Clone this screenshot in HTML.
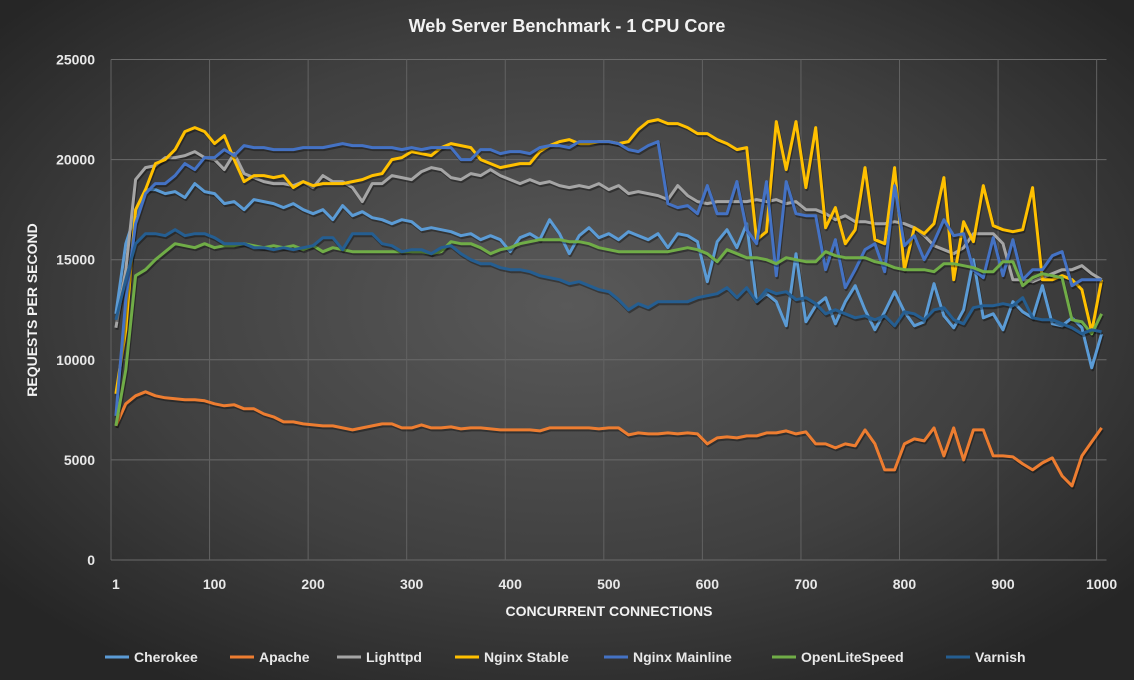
<!DOCTYPE html>
<html><head><meta charset="utf-8"><style>
html,body{margin:0;padding:0;}
body{width:1134px;height:680px;overflow:hidden;background:#2a2a2a;font-family:"Liberation Sans",sans-serif;}
svg{display:block;}
svg text{font-family:"Liberation Sans",sans-serif;}
</style></head><body>
<svg id="chart" width="1134" height="680" xmlns="http://www.w3.org/2000/svg">
<defs>
<radialGradient id="bg" cx="50%" cy="45%" r="65%">
<stop offset="0" stop-color="#595959"/><stop offset="0.6" stop-color="#404040"/><stop offset="1" stop-color="#262626"/>
</radialGradient>
</defs>
<rect x="0" y="0" width="1134" height="680" fill="url(#bg)"/>
<text x="567" y="32" text-anchor="middle" fill="#f2f2f2" font-size="18" font-weight="bold">Web Server Benchmark - 1 CPU Core</text>
<g id="grid"></g>
<g id="yticks"></g>
<g id="xticks"></g>
<g id="series"></g>
<text transform="translate(37,310) rotate(-90)" text-anchor="middle" fill="#f2f2f2" font-size="14" font-weight="bold">REQUESTS PER SECOND</text>
<text x="609" y="616" text-anchor="middle" fill="#f2f2f2" font-size="14" font-weight="bold">CONCURRENT CONNECTIONS</text>
<g id="legend"></g>
</svg>
<script>
const categories = [];
for (let i = 0; i <= 100; i++) categories.push(i === 0 ? 1 : i * 10);
const yTicks = [0, 5000, 10000, 15000, 20000, 25000];
const xTickLabels = [1, 100, 200, 300, 400, 500, 600, 700, 800, 900, 1000];
const seriesNames = ["Cherokee","Apache","Lighttpd","Nginx Stable","Nginx Mainline","OpenLiteSpeed","Varnish"];
const seriesColors = ["#5b9bd5","#ed7d31","#a5a5a5","#ffc000","#4472c4","#70ad47","#255e91"];
const cherokee = [12.3,15.8,17.3,18.5,18.5,18.3,18.4,18.1,18.8,18.4,18.3,17.8,17.9,17.5,18.0,17.9,17.8,17.6,17.8,17.5,17.3,17.5,17.0,17.7,17.2,17.4,17.1,17.0,16.8,17.0,16.9,16.5,16.6,16.5,16.4,16.2,16.3,16.0,16.2,16.0,15.4,16.1,16.3,16.0,17.0,16.3,15.3,16.2,16.6,16.1,16.3,16.0,16.4,16.2,16.0,16.3,15.6,16.3,16.2,15.9,13.9,15.9,16.5,15.6,16.8,12.9,13.3,12.9,11.7,15.3,11.9,12.7,13.1,11.8,12.9,13.7,12.5,11.5,12.4,13.4,12.4,11.7,11.9,13.8,12.2,11.6,12.5,15.0,12.1,12.3,11.5,12.9,12.4,12.1,13.7,11.8,11.7,12.1,11.6,9.6,11.3];
const apache = [6.7,7.8,8.2,8.4,8.2,8.1,8.05,8.0,8.0,7.95,7.8,7.7,7.75,7.55,7.55,7.3,7.15,6.9,6.9,6.8,6.75,6.7,6.7,6.6,6.5,6.6,6.7,6.8,6.8,6.6,6.6,6.75,6.6,6.6,6.65,6.55,6.6,6.6,6.55,6.5,6.5,6.5,6.5,6.45,6.6,6.6,6.6,6.6,6.6,6.55,6.6,6.6,6.25,6.35,6.3,6.3,6.35,6.3,6.35,6.3,5.8,6.1,6.15,6.1,6.2,6.2,6.35,6.35,6.45,6.3,6.4,5.8,5.8,5.6,5.8,5.7,6.5,5.8,4.5,4.5,5.8,6.05,5.95,6.6,5.2,6.6,5.0,6.5,6.5,5.2,5.2,5.15,4.8,4.5,4.85,5.1,4.2,3.7,5.2,5.9,6.6];
const lighttpd = [11.6,14.5,19.0,19.6,19.7,20.1,20.1,20.2,20.4,20.1,20.0,19.5,20.3,19.3,19.1,18.9,18.8,18.8,18.7,18.9,18.6,19.2,18.9,18.9,18.6,17.9,18.8,18.8,19.2,19.1,19.0,19.4,19.6,19.5,19.1,19.0,19.3,19.2,19.5,19.2,19.0,18.8,19.0,18.8,18.9,18.7,18.6,18.7,18.6,18.8,18.5,18.7,18.3,18.4,18.3,18.2,18.0,18.7,18.2,17.9,17.8,17.9,17.9,17.9,17.9,18.0,17.9,18.0,17.8,17.9,17.5,17.5,17.3,17.0,17.2,16.9,16.9,16.8,16.8,16.9,16.8,16.6,16.2,15.7,15.5,15.3,15.6,16.3,16.3,16.3,15.8,14.0,14.0,13.9,14.1,14.3,14.5,14.5,14.7,14.3,14.0];
const nginxStable = [8.3,11.5,17.5,18.5,19.8,20.0,20.5,21.4,21.6,21.4,20.8,21.2,20.0,18.9,19.2,19.2,19.1,19.2,18.6,18.9,18.7,18.8,18.8,18.8,18.9,19.0,19.2,19.3,20.0,20.1,20.4,20.3,20.2,20.6,20.8,20.7,20.6,20.0,19.8,19.6,19.7,19.8,19.8,20.4,20.7,20.9,21.0,20.8,20.8,20.9,20.9,20.8,20.9,21.5,21.9,22.0,21.8,21.8,21.6,21.3,21.3,21.0,20.8,20.5,20.6,16.0,16.4,21.9,19.5,21.9,18.6,21.6,16.6,17.6,15.8,16.5,19.6,16.0,15.8,19.6,14.5,16.6,16.3,16.8,19.1,14.0,16.9,15.9,18.7,16.7,16.5,16.4,16.5,18.6,14.0,14.0,14.2,14.0,13.5,11.4,14.0];
const nginxMainline = [7.2,13.0,16.8,18.3,18.8,18.8,19.2,19.8,19.5,20.1,20.1,20.5,20.2,20.7,20.6,20.6,20.5,20.5,20.5,20.6,20.6,20.6,20.7,20.8,20.7,20.7,20.6,20.6,20.6,20.5,20.6,20.5,20.6,20.6,20.6,20.0,20.0,20.5,20.5,20.3,20.4,20.4,20.3,20.6,20.7,20.7,20.6,20.9,20.9,20.9,20.9,20.8,20.5,20.4,20.7,20.9,17.8,17.6,17.7,17.3,18.7,17.3,17.3,18.9,16.5,15.8,18.9,14.2,18.9,17.3,17.2,17.2,14.5,16.0,13.6,14.5,15.5,15.8,14.4,18.7,15.7,16.2,15.0,15.9,17.0,16.2,16.3,14.5,14.1,16.1,14.2,16.0,14.0,14.5,14.5,15.2,15.4,13.7,14.0,14.0,14.0];
const openLiteSpeed = [6.7,9.5,14.2,14.5,15.0,15.4,15.8,15.7,15.6,15.8,15.6,15.7,15.7,15.8,15.7,15.6,15.7,15.6,15.7,15.5,15.7,15.4,15.6,15.5,15.4,15.4,15.4,15.4,15.4,15.4,15.4,15.4,15.3,15.4,15.9,15.8,15.8,15.6,15.3,15.5,15.6,15.8,15.9,16.0,16.0,16.0,15.9,15.9,15.8,15.6,15.5,15.4,15.4,15.4,15.4,15.4,15.4,15.5,15.6,15.5,15.3,14.9,15.5,15.3,15.1,15.1,15.0,14.8,15.1,15.0,14.9,14.9,15.4,15.2,15.1,15.1,15.1,14.9,14.8,14.6,14.5,14.5,14.5,14.4,14.8,14.8,14.7,14.6,14.4,14.4,14.9,14.9,13.7,14.1,14.3,14.2,14.1,12.0,11.9,11.3,12.3];
const varnish = [12.0,14.0,15.8,16.3,16.3,16.2,16.5,16.2,16.3,16.3,16.1,15.8,15.8,15.8,15.6,15.6,15.5,15.6,15.5,15.6,15.7,16.1,16.1,15.5,16.3,16.3,16.3,15.8,15.7,15.4,15.5,15.5,15.3,15.6,15.7,15.3,15.0,14.8,14.8,14.6,14.5,14.5,14.4,14.2,14.1,14.0,13.8,13.9,13.7,13.5,13.4,13.0,12.5,12.8,12.6,12.9,12.9,12.9,12.9,13.1,13.2,13.3,13.6,13.1,13.6,12.9,13.5,13.3,13.4,13.0,13.1,12.8,12.3,12.5,12.3,12.1,12.2,12.0,12.2,11.7,12.4,12.3,12.0,12.5,12.6,12.0,11.8,12.6,12.7,12.7,12.8,12.7,13.1,12.1,12.0,12.0,11.8,11.6,11.3,11.5,11.4];

const NS = "http://www.w3.org/2000/svg";
const L = 111, R = 1106.5, T = 59.5, B = 560, YMAX = 25000;
const step = (R - L) / categories.length;
function xIdx(i){ return L + (i + 0.5) * step; }
function xVal(v){ return xIdx(categories.indexOf(v)); }
function yVal(v){ return B - (v / YMAX) * (B - T); }
function mk(tag, attrs, parent){ const e = document.createElementNS(NS, tag); for (const k in attrs) e.setAttribute(k, attrs[k]); parent.appendChild(e); return e; }

const grid = document.getElementById('grid');
yTicks.forEach(t => {
  const ln = mk('line', {x1:L, x2:R, y1:yVal(t), y2:yVal(t), stroke:'#6a6a6a', 'stroke-width':1}, grid);
  
  
});
for (let k = 0; k <= 10; k++) {
  const gx = L + k * 10 * step;
  const ln = mk('line', {x1:gx, x2:gx, y1:T, y2:B, stroke:'#626262', 'stroke-width':1}, grid);
  
  
}
const yt = document.getElementById('yticks');
yTicks.forEach(t => {
  const tx = mk('text', {x:95, y:yVal(t) + 5, 'text-anchor':'end', fill:'#e8e8e8', 'font-size':14, 'font-weight':'bold'}, yt);
  tx.textContent = t;
  
  
});
const xt = document.getElementById('xticks');
xTickLabels.forEach(t => {
  const tx = mk('text', {x:xVal(t), y:589, 'text-anchor':'middle', fill:'#e8e8e8', 'font-size':14, 'font-weight':'bold'}, xt);
  tx.textContent = t;
  
  
});
const allSeries = [cherokee, apache, lighttpd, nginxStable, nginxMainline, openLiteSpeed, varnish];
const sg = document.getElementById('series');
allSeries.forEach((arr, s) => {
  const pts = arr.map((v, i) => xIdx(i).toFixed(1) + ',' + yVal(v * 1000).toFixed(1)).join(' ');
  const sh = mk('polyline', {points:pts, fill:'none', stroke:'rgba(0,0,0,0.35)', 'stroke-width':3, 'stroke-linejoin':'round', transform:'translate(1,2)'}, sg);
  
  
  const pl = mk('polyline', {points:pts, fill:'none', stroke:seriesColors[s], 'stroke-width':3, 'stroke-linejoin':'round'}, sg);
  
  
});
const lg = document.getElementById('legend');
const legendX = [105, 230, 337, 455, 604, 772, 946];
seriesNames.forEach((n, s) => {
  const g = mk('g', {}, lg);
  
  
  mk('line', {x1:legendX[s], x2:legendX[s] + 24, y1:657, y2:657, stroke:seriesColors[s], 'stroke-width':3}, g);
  const tx = mk('text', {x:legendX[s] + 29, y:662, fill:'#e8e8e8', 'font-size':14, 'font-weight':'bold'}, g);
  tx.textContent = n;
});
</script>
</body></html>
